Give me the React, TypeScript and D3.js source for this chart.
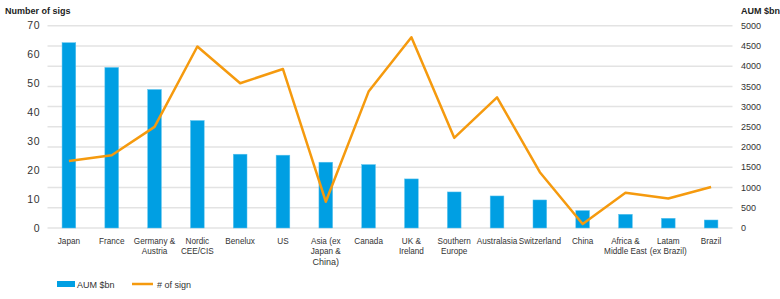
import React from "react";
import * as d3 from "d3";

const categories: string[][] = [
  ["Japan"], ["France"], ["Germany &", "Austria"], ["Nordic", "CEE/CIS"], ["Benelux"], ["US"],
  ["Asia (ex", "Japan &", "China)"], ["Canada"], ["UK &", "Ireland"], ["Southern", "Europe"],
  ["Australasia"], ["Switzerland"], ["China"], ["Africa &", "Middle East"], ["Latam", "(ex Brazil)"], ["Brazil"],
];
const aum: number[] = [4580, 3968, 3423, 2656, 1824, 1800, 1626, 1567, 1213, 891, 792, 693, 430, 339, 240, 198];
const sigs: number[] = [23.2, 25.2, 35, 62.8, 50.1, 55, 9.1, 47.2, 66, 31.2, 45.2, 19.3, 1.4, 12.2, 10.2, 14.2];
const leftTicks: number[] = [0, 10, 20, 30, 40, 50, 60, 70];
const rightTicks: number[] = [0, 500, 1000, 1500, 2000, 2500, 3000, 3500, 4000, 4500, 5000];

const W = 780, H = 299;
const x0 = 47.5, x1 = 732.5, yTop = 25.7, yBot = 228;
const FONT = "'Liberation Sans', Arial, sans-serif";
const BAR = "#009FE3";
const LINE = "#F59A0E";

export default function App() {
  const keys = categories.map((c) => c.join(" "));
  const x = d3.scaleBand<string>().domain(keys).range([x0, x1]).paddingInner(0.68).paddingOuter(0.34);
  const yR = d3.scaleLinear().domain([0, 5000]).range([yBot, yTop]);
  const yL = d3.scaleLinear().domain([0, 70]).range([yBot, yTop]);
  const cx = (i: number) => (x(keys[i]) as number) + x.bandwidth() / 2;
  const line = d3.line<number>().x((_, i) => cx(i)).y((d) => yL(d));

  return (
    <svg width={W} height={H} style={{ position: "absolute", left: 0, top: 0, background: "#fff" }} fontFamily={FONT}>
      {rightTicks.map((t) => (
        <line key={t} x1={x0} x2={x1} y1={yR(t)} y2={yR(t)} stroke="#e3e3e3" strokeWidth={1.5} />
      ))}
      {leftTicks.map((t) => (
        <text key={t} x={40.5} y={yL(t)} dy="0.35em" textAnchor="end" fontSize={10.5} letterSpacing={0.8} fill="#333">{t}</text>
      ))}
      {rightTicks.map((t) => (
        <text key={t} x={741} y={yR(t)} dy="0.35em" textAnchor="start" fontSize={9} fill="#333">{t}</text>
      ))}
      <text x={5} y={13.5} fontSize={9} fontWeight="bold" fill="#222">Number of sigs</text>
      <text x={741} y={13.5} fontSize={9} fontWeight="bold" fill="#222">AUM $bn</text>
      {aum.map((v, i) => (
        <rect key={i} x={x(keys[i])} y={yR(v)} width={x.bandwidth()} height={yBot - yR(v)} fill={BAR} stroke="#5cc3ee" strokeWidth={0.5} />
      ))}
      <path d={line(sigs) || ""} fill="none" stroke={LINE} strokeWidth={2.5} strokeLinejoin="round" />
      {categories.map((lines, i) => (
        <text key={i} x={cx(i)} y={243.5} textAnchor="middle" fontSize={8.2} fill="#333">
          {lines.map((l, j) => (
            <tspan key={j} x={cx(i)} dy={j === 0 ? 0 : 10.5} fontSize={l === "China)" ? 9 : 8.2}>{l}</tspan>
          ))}
        </text>
      ))}
      <rect x={57} y={281} width={18} height={6} fill={BAR} />
      <text x={77} y={287.5} fontSize={9} fill="#333">AUM $bn</text>
      <line x1={132} x2={153} y1={284} y2={284} stroke={LINE} strokeWidth={2.5} />
      <text x={157} y={287.5} fontSize={9} fill="#333"># of sign</text>
    </svg>
  );
}
